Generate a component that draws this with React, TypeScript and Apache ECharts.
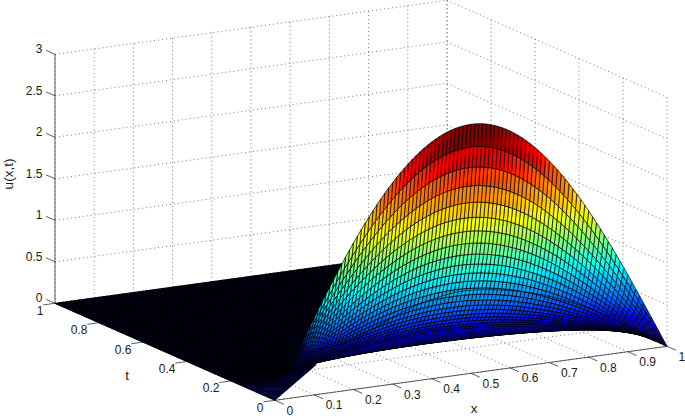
import React, { useEffect, useRef } from "react";
import * as echarts from "echarts";

// Peak height of each constant-t row (rows are 1/160 apart in t), read from the nested arcs.
const rowPeak = [
  3.000, 2.718, 2.463, 2.231, 2.022, 1.832, 1.660, 1.504, 1.362, 1.234,
  1.118, 1.013, 0.918, 0.832, 0.754, 0.683, 0.619, 0.561, 0.508, 0.460,
  0.417, 0.378, 0.342, 0.310, 0.281, 0.255, 0.231, 0.209, 0.189, 0.172,
  0.156, 0.141, 0.128, 0.116, 0.105, 0.095, 0.086, 0.078, 0.071, 0.064,
  0.058, 0.053, 0.048, 0.043, 0.039, 0.035, 0.032, 0.029, 0.026, 0.024,
  0.022, 0.020, 0.018, 0.016, 0.015, 0.013, 0.012, 0.011, 0.010, 0.009,
  0.008, 0.007, 0.007, 0.006, 0.005, 0.005, 0.004, 0.004, 0.004, 0.003,
  0.003, 0.003, 0.002, 0.002, 0.002, 0.002, 0.002, 0.001, 0.001, 0.001,
  0.001, 0.001, 0.001, 0.001, 0.001, 0.001, 0.000, 0.000, 0.000, 0.000,
  0.000, 0.000, 0.000, 0.000, 0.000, 0.000, 0.000, 0.000, 0.000, 0.000,
  0.000, 0.000, 0.000, 0.000, 0.000, 0.000, 0.000, 0.000, 0.000, 0.000,
  0.000, 0.000, 0.000, 0.000, 0.000, 0.000, 0.000, 0.000, 0.000, 0.000,
  0.000, 0.000, 0.000, 0.000, 0.000, 0.000, 0.000, 0.000, 0.000, 0.000,
  0.000, 0.000, 0.000, 0.000, 0.000, 0.000, 0.000, 0.000, 0.000, 0.000,
  0.000, 0.000, 0.000, 0.000, 0.000, 0.000, 0.000, 0.000, 0.000, 0.000,
  0.000, 0.000, 0.000, 0.000, 0.000, 0.000, 0.000, 0.000, 0.000, 0.000,
  0.000,
];

// Arch shape across x (x = 0, 0.01, ... 1), as a fraction of the row's peak.
const archShape = [
  0.0000, 0.0314, 0.0628, 0.0941, 0.1253, 0.1564, 0.1874, 0.2181, 0.2487, 0.2790,
  0.3090, 0.3387, 0.3681, 0.3971, 0.4258, 0.4540, 0.4818, 0.5090, 0.5358, 0.5621,
  0.5878, 0.6129, 0.6374, 0.6613, 0.6845, 0.7071, 0.7290, 0.7501, 0.7705, 0.7902,
  0.8090, 0.8271, 0.8443, 0.8607, 0.8763, 0.8910, 0.9048, 0.9178, 0.9298, 0.9409,
  0.9511, 0.9603, 0.9686, 0.9759, 0.9823, 0.9877, 0.9921, 0.9956, 0.9980, 0.9995,
  1.0000, 0.9995, 0.9980, 0.9956, 0.9921, 0.9877, 0.9823, 0.9759, 0.9686, 0.9603,
  0.9511, 0.9409, 0.9298, 0.9178, 0.9048, 0.8910, 0.8763, 0.8607, 0.8443, 0.8271,
  0.8090, 0.7902, 0.7705, 0.7501, 0.7290, 0.7071, 0.6845, 0.6613, 0.6374, 0.6129,
  0.5878, 0.5621, 0.5358, 0.5090, 0.4818, 0.4540, 0.4258, 0.3971, 0.3681, 0.3387,
  0.3090, 0.2790, 0.2487, 0.2181, 0.1874, 0.1564, 0.1253, 0.0941, 0.0628, 0.0314,
  0.0000,
];

// Low dark lobe in the corner next to the origin: [x, t, u].
const cornerLobe = [
  [0, 0, 0],
  [0.2355, 0.2333, 0],
  [0.274, 0.315, 0],
  [0.185, 0.262, 0],
];

// Darker crease that crosses the rows on the front of the sheet: [x, t, u].
const creaseLine = [
  [0.099, 0.05, 0.437],
  [0.258, 0.11, 0.43],
  [0.395, 0.09, 0.747],
  [0.526, 0.083, 0.877],
  [0.695, 0.08, 0.753],
  [0.84, 0.075, 0.48],
  [0.945, 0.07, 0.184],
  [1, 0, 0],
];

const xTicks = [0, 0.1, 0.2, 0.3, 0.4, 0.5, 0.6, 0.7, 0.8, 0.9, 1];
const tTicks = [0, 0.2, 0.4, 0.6, 0.8, 1];
const zTicks = [0, 0.5, 1, 1.5, 2, 2.5, 3];
const zMax = 3;

const FONT = '"Liberation Sans", Arial, sans-serif';
const TICK_SIZE = 12;
const LABEL_SIZE = 13.5;
const TEXT_COLOR = "#1a1a1a";
const GRID_COLOR = "#555";
const AXIS_COLOR = "#333";

// Orthographic view of the box, in page pixels.
const sx = (x: number, t: number) => 275 + 392 * x - 220 * t;
const sy = (x: number, t: number, z: number) => 400.3 - 54 * x - 97 * t - 83 * z;

const clamp01 = (v: number) => Math.max(0, Math.min(1, v));
const jet = (value: number) => {
  const level = Math.min(63, Math.floor((value / zMax) * 64));
  const v = (level + 0.5) / 64;
  const r = clamp01(Math.min(4 * v - 1.5, -4 * v + 4.5));
  const g = clamp01(Math.min(4 * v - 0.5, -4 * v + 3.5));
  const b = clamp01(Math.min(4 * v + 0.5, -4 * v + 2.5));
  return `rgb(${Math.round(r * 255)},${Math.round(g * 255)},${Math.round(b * 255)})`;
};
// Rows crowd together near the fold, so their edges are drawn finer there.
const edgeWidth = (row: number, col: number) =>
  row < 22 ? 0.7 : row < 40 && col >= 20 ? 0.3 : 0.85;

type Seg = { a: number[]; b: number[]; kind: "grid" | "axis" | "tick" };

function buildSegments(): Seg[] {
  const segs: Seg[] = [];
  const add = (a: number[], b: number[], kind: Seg["kind"]) => segs.push({ a, b, kind });
  for (const x of xTicks) {
    add([x, 0, 0], [x, 1, 0], "grid");
    add([x, 1, 0], [x, 1, zMax], "grid");
  }
  for (const t of tTicks) {
    add([0, t, 0], [1, t, 0], "grid");
    add([1, t, 0], [1, t, zMax], "grid");
  }
  for (const z of zTicks) {
    add([0, 1, z], [1, 1, z], "grid");
    add([1, 1, z], [1, 0, z], "grid");
  }
  add([0, 0, 0], [1, 0, 0], "axis");
  add([0, 0, 0], [0, 1, 0], "axis");
  add([0, 1, 0], [0, 1, zMax], "axis");
  for (const x of xTicks) add([x, 0, 0], [x, -0.04, 0], "tick");
  for (const t of tTicks) add([0, t, 0], [-0.03, t, 0], "tick");
  for (const z of zTicks) add([0, 1, z], [0, 1.04, z], "tick");
  return segs;
}

type Lbl = { text: string; px: number; py: number; align: string; rot?: number; size: number };

function buildLabels(): Lbl[] {
  const out: Lbl[] = [];
  for (const x of xTicks)
    out.push({ text: String(x), px: sx(x, 0) + 11.5, py: sy(x, 0, 0) + 10.5, align: "left", size: TICK_SIZE });
  for (const t of tTicks)
    out.push({ text: String(t), px: sx(0, t) - 11.5, py: sy(0, t, 0) + 7.5, align: "right", size: TICK_SIZE });
  for (const z of zTicks)
    out.push({ text: String(z), px: sx(0, 1) - 12.5, py: sy(0, 1, z) - 5, align: "right", size: TICK_SIZE });
  out.push({ text: "x", px: 474, py: 408.5, align: "center", size: LABEL_SIZE });
  out.push({ text: "t", px: 127, py: 375, align: "center", size: LABEL_SIZE });
  out.push({ text: "u(x,t)", px: 8, py: 174, align: "center", rot: Math.PI / 2, size: LABEL_SIZE });
  return out;
}

export default function App() {
  const ref = useRef<HTMLDivElement>(null);
  useEffect(() => {
    const chart = echarts.init(ref.current!, undefined, { renderer: "svg", width: 685, height: 419 });
    const segs = buildSegments();
    const labels = buildLabels();
    const cells: number[][] = [];
    for (let r = rowPeak.length - 2; r >= 0; r--) {
      for (let c = archShape.length - 2; c >= 0; c--) cells.push([c, r]);
    }
    const height = (c: number, r: number) => rowPeak[r] * archShape[c];
    const xAt = (c: number) => c / (archShape.length - 1);
    const tAt = (r: number) => r / (rowPeak.length - 1);
    const project = (api: any, p: number[]) => api.coord([sx(p[0], p[1]), sy(p[0], p[1], p[2])]);

    chart.setOption({
      animation: false,
      grid: { left: 0, right: 0, top: 0, bottom: 0 },
      xAxis: { type: "value", min: 0, max: 685, show: false },
      yAxis: { type: "value", min: 0, max: 419, inverse: true, show: false },
      series: [
        {
          type: "custom",
          coordinateSystem: "cartesian2d",
          silent: true,
          clip: false,
          data: segs.map((_, i) => [i, 0]),
          renderItem: (params: any, api: any) => {
            const s = segs[params.dataIndex];
            const p = project(api, s.a);
            const q = project(api, s.b);
            const style =
              s.kind === "grid"
                ? { stroke: GRID_COLOR, lineWidth: 0.8, lineDash: [1, 3] }
                : { stroke: AXIS_COLOR, lineWidth: 0.8 };
            return { type: "line", shape: { x1: p[0], y1: p[1], x2: q[0], y2: q[1] }, style };
          },
        },
        {
          type: "custom",
          coordinateSystem: "cartesian2d",
          silent: true,
          clip: false,
          data: [[0, 0]],
          renderItem: (_: any, api: any) => ({
            type: "polygon",
            shape: { points: cornerLobe.map((p) => project(api, p)) },
            style: { fill: "#000024", stroke: "#000018", lineWidth: 0.5 },
          }),
        },
        {
          type: "custom",
          coordinateSystem: "cartesian2d",
          silent: true,
          clip: false,
          progressive: 0,
          data: cells,
          renderItem: (_: any, api: any) => {
            const c = api.value(0);
            const r = api.value(1);
            const corners = [
              [c, r],
              [c + 1, r],
              [c + 1, r + 1],
              [c, r + 1],
            ];
            const points = corners.map(([cc, rr]) =>
              project(api, [xAt(cc), tAt(rr), height(cc, rr)])
            );
            return {
              type: "polygon",
              shape: { points },
              style: { fill: jet(height(c, r)), stroke: "#000", lineWidth: edgeWidth(r, c) },
            };
          },
        },
        {
          type: "custom",
          coordinateSystem: "cartesian2d",
          silent: true,
          clip: false,
          data: [[0, 0]],
          renderItem: (_: any, api: any) => ({
            type: "polyline",
            shape: { points: creaseLine.map((p) => project(api, p)), smooth: 0.3 },
            style: { fill: "none", stroke: "#000", lineWidth: 0.9, opacity: 0.7 },
          }),
        },
        {
          type: "custom",
          coordinateSystem: "cartesian2d",
          silent: true,
          clip: false,
          data: labels.map((_, i) => [i, 0]),
          renderItem: (params: any, api: any) => {
            const l = labels[params.dataIndex];
            const p = api.coord([l.px, l.py]);
            return {
              type: "text",
              x: p[0],
              y: p[1],
              rotation: l.rot || 0,
              style: {
                text: l.text,
                fill: TEXT_COLOR,
                font: `${l.size}px ${FONT}`,
                align: l.align,
                verticalAlign: "middle",
              },
            };
          },
        },
      ],
    });
    return () => chart.dispose();
  }, []);
  return <div ref={ref} style={{ position: "fixed", left: 0, top: 0, width: 685, height: 419, background: "#fff" }} />;
}
